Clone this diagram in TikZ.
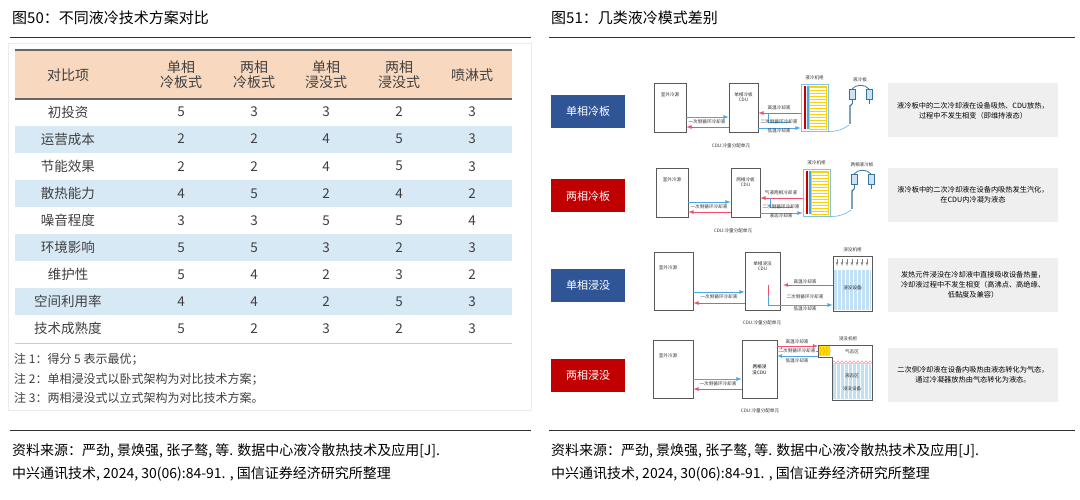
\documentclass[tikz,border=0pt]{standalone}
\usepackage{fontspec}
\setmainfont{Noto Sans CJK SC}
\definecolor{peach}{HTML}{F8D8BE}
\definecolor{rowblue}{HTML}{D8E9F6}
\definecolor{dblue}{HTML}{2F5597}
\definecolor{dred}{HTML}{C00000}
\definecolor{lblue}{HTML}{4DA6E0}
\definecolor{lred}{HTML}{F0506E}
\definecolor{descg}{HTML}{EFEFEF}
\definecolor{tgray}{HTML}{404040}
\tikzset{
  ttl/.style={anchor=west,font=\fontsize{15}{17}\selectfont,text=black,inner sep=0},
  src/.style={anchor=west,font=\fontsize{14}{16}\selectfont,text=black,inner sep=0},
  hdr/.style={font=\fontsize{14}{15}\selectfont,text=tgray,align=center,inner sep=0},
  cell/.style={font=\fontsize{13.5}{15}\selectfont,text=tgray,inner sep=0},
  note/.style={anchor=west,font=\fontsize{12}{14}\selectfont,text=tgray,inner sep=0},
  tag/.style={minimum width=74pt,minimum height=33pt,text=white,font=\fontsize{11}{13}\selectfont,inner sep=0},
  desc/.style={fill=descg,minimum width=170pt,minimum height=54pt,align=center,font=\fontsize{7.2}{10}\selectfont,text=black,inner sep=0},
  bx/.style={draw=gray!70!black,line width=0.7pt,inner sep=0},
  tiny/.style={font=\fontsize{4.6}{5.5}\selectfont,text=gray!40!black,inner sep=0.3pt,align=center},
  bl/.style={draw=lblue,line width=0.8pt,-{latex}},
  rd/.style={draw=lred,line width=0.8pt,-{latex}},
}
\newcommand\platepanel[5]{%
  \node[bx,minimum width=32pt,minimum height=49pt] (o#1) at (670,107.5) {};
  \node[tiny] (ot#1) at (670,95) {室外冷源};
  \node[bx,minimum width=29pt,minimum height=49pt] (c#1) at (743.5,107.5) {};
  \node[tiny] (ct#1) at (743.5,97) {#2\\CDU};
  \draw[bl] ([yshift=-9.5pt]o#1.east) -- ([yshift=-9.5pt]c#1.west);
  \draw[rd] ([yshift=-19.5pt]c#1.west) -- ([yshift=-19.5pt]o#1.east);
  \node[tiny,fill=white] (p#1) at (707,122) {一次侧循环冷却液};
  \node[draw=lblue!70,line width=0.7pt,minimum width=27pt,minimum height=47pt,inner sep=0] (k#1) at (814.5,107.5) {};
  \fill[red!75!black] (803.5,86) rectangle (805.5,129);
  \fill[lblue] (806.5,86) rectangle (808.5,129);
  \foreach \yy in {87,90,...,129} \draw[yellow!70!orange,line width=0.4pt] (809.5,\yy) -- (826,\yy);
  \draw[yellow!70!orange,line width=0.6pt] (809.5,86) rectangle (826.5,129);
  \node[tiny] (kt#1) at (814.5,78) {液冷机柜};
  \draw[rd] ([yshift=-5.5pt]k#1.west) -- ([yshift=-5.5pt]c#1.east);
  \draw[bl] ([yshift=-20.5pt]c#1.east) -- ([yshift=-20.5pt]k#1.west);
  \draw[lblue,line width=0.6pt] (768,113) -- (768,122) -- (790,122);
  \node[tiny] (h#1) at (779,108) {#3};
  \node[tiny] (s#1) at (779,121.5) {二次侧循环冷却液};
  \node[tiny] (l#1) at (779,131) {#4};
  \node[tiny] (it#1) at (860,80) {#5};
  \foreach \xx in {852,869}{
    \draw[lblue!70!black,fill=lblue!30] (\xx-3,89) rectangle (\xx+3,99);
    \draw[lblue!70!black,line width=0.8pt] (\xx,99) -- (\xx,104);}
  \draw[lblue!70!black,line width=0.8pt] (852,89) .. controls (856,84) and (865,84) .. (869,89);
  \draw[lblue!70!black,line width=1.2pt] (852,104) -- (850,106) -- (850,124);
  \draw[lblue,line width=0.5pt] (k#1.south east) .. controls (838,132) and (845,128) .. (849,125);
  \node[tiny] (cap#1) at (731,146) {CDU:冷量分配单元};
}
\begin{document}
\begin{tikzpicture}[x=1pt,y=-1pt]
\useasboundingbox (0,0) rectangle (1080,500);
\fill[white] (0,0) rectangle (1080,500);
% titles
\node[ttl] (t50) at (12,18) {图50：不同液冷技术方案对比};
\node[ttl] (t51) at (551,18) {图51：几类液冷模式差别};
\draw[black!80,line width=0.8pt] (10,37) -- (531,37);
\draw[black!80,line width=0.8pt] (549,37) -- (1075,37);
% table frame
\draw[black!8,line width=0.6pt] (8,43) rectangle (531,410);
\fill[peach] (15,50) rectangle (512,99);
\foreach \r in {2,4,6,8} \fill[rowblue] (15,{98.5+(\r-1)*27.1}) rectangle (512,{98.5+\r*27.1});
\draw[gray!80!black,line width=1.2pt] (15,50) -- (512,50);
\draw[gray!80!black,line width=1.2pt] (15,99) -- (512,99);
\draw[gray!40,line width=0.6pt] (15,343) -- (512,343);
\node[hdr] (h0) at (68,75) {对比项};
\node[hdr] (h1) at (181,75) {单相\\冷板式};
\node[hdr] (h2) at (254,75) {两相\\冷板式};
\node[hdr] (h3) at (326,75) {单相\\浸没式};
\node[hdr] (h4) at (399,75) {两相\\浸没式};
\node[hdr] (h5) at (472,75) {喷淋式};
\foreach \name/\a/\b/\c/\d/\e [count=\i] in {初投资/5/3/3/2/3,运营成本/2/2/4/5/3,节能效果/2/2/4/5/3,散热能力/4/5/2/4/2,噪音程度/3/3/5/5/4,环境影响/5/5/3/2/3,维护性/5/4/2/3/2,空间利用率/4/4/2/5/3,技术成熟度/5/2/3/2/3}{
  \pgfmathsetmacro\yy{112+(\i-1)*27.1}
  \node[cell] (r\i c0) at (68,\yy) {\name};
  \node[cell] (r\i c1) at (181,\yy) {\a};
  \node[cell] (r\i c2) at (254,\yy) {\b};
  \node[cell] (r\i c3) at (326,\yy) {\c};
  \node[cell] (r\i c4) at (399,\yy) {\d};
  \node[cell] (r\i c5) at (472,\yy) {\e};
}
\node[note] (n1) at (14,359) {注 1：得分 5 表示最优；};
\node[note] (n2) at (14,379) {注 2：单相浸没式以卧式架构为对比技术方案；};
\node[note] (n3) at (14,398) {注 3：两相浸没式以立式架构为对比技术方案。};
% source lines
\draw[black!80,line width=0.8pt] (10,430) -- (531,430);
\draw[black!80,line width=0.8pt] (549,430) -- (1075,430);
\node[src] (s1) at (12,451) {资料来源：严劲, 景焕强, 张子骜, 等. 数据中心液冷散热技术及应用[J].};
\node[src] (s2) at (12,474) {中兴通讯技术, 2024, 30(06):84-91. , 国信证券经济研究所整理};
\node[src] (s3) at (551,451) {资料来源：严劲, 景焕强, 张子骜, 等. 数据中心液冷散热技术及应用[J].};
\node[src] (s4) at (551,474) {中兴通讯技术, 2024, 30(06):84-91. , 国信证券经济研究所整理};
% tags
\node[tag,fill=dblue] (g1) at (588,111.5) {单相冷板};
\node[tag,fill=dred] (g2) at (588,196) {两相冷板};
\node[tag,fill=dblue] (g3) at (588,285) {单相浸没};
\node[tag,fill=dred] (g4) at (588,375) {两相浸没};
% descriptions
\node[desc] (d1) at (973,110.5) {液冷板中的二次冷却液在设备吸热、CDU放热，\\过程中不发生相变（即维持液态）};
\node[desc] (d2) at (973,195) {液冷板中的二次冷却液在设备内吸热发生汽化，\\在CDU内冷凝为液态};
\node[desc] (d3) at (973,285) {发热元件浸没在冷却液中直接吸收设备热量，\\冷却液过程中不发生相变（高沸点、高绝缘、\\低黏度及兼容）};
\node[desc] (d4) at (973,375) {二次侧冷却液在设备内吸热由液态转化为气态，\\通过冷凝器放热由气态转化为液态。};
% panel 1 & 2
\platepanel{1}{单相冷板}{高温冷却液}{低温冷却液}{液冷板}
\begin{scope}[shift={(2,85)}]
\platepanel{2}{两相冷板}{气液两相冷却液}{液态冷却液}{两相液冷板}
\end{scope}
% panel 3
\node[bx,minimum width=39pt,minimum height=58pt] (o3) at (673.5,281) {};
\node[tiny] (ot3) at (668,268) {室外冷源};
\node[bx,minimum width=35pt,minimum height=58pt] (c3) at (762.5,281) {};
\node[tiny] (ct3) at (762.5,266) {单相浸没\\CDU};
\draw[bl] ([yshift=-11pt]o3.east) -- ([yshift=-11pt]c3.west);
\draw[rd] ([yshift=-22pt]c3.west) -- ([yshift=-22pt]o3.east);
\node[tiny,fill=white] (p3) at (719,297) {一次侧循环冷却液};
\node[draw=gray!70!black,line width=0.7pt,minimum width=39pt,minimum height=55pt,inner sep=0] (t3) at (852.5,283.5) {};
\fill[lblue!35] (834,270) rectangle (871,310);
\foreach \xx in {837,841,...,869} \draw[white,line width=1pt] (\xx,270) -- (\xx,310);
\foreach \xx in {837,842,...,867} \draw[gray,line width=0.3pt,-{latex}] (\xx,259) -- (\xx,266);
\node[tiny] (tt3) at (852.5,250) {浸没机柜};
\node[tiny,fill=lblue!35] (te3) at (852.5,288) {浸没设备};
\draw[rd] ([yshift=-1.5pt]t3.west) -- (783,285);
\draw[lred,line width=0.6pt] (768,285) -- (768,296);
\draw[lblue,line width=0.6pt] (768,296) -- (768,305);
\draw[bl] (768,305) -- ([yshift=-21.5pt]t3.west);
\node[tiny] (h3) at (805,282) {高温冷却液};
\node[tiny] (sc3) at (805,297) {二次侧循环冷却液};
\node[tiny] (l3) at (805,309) {低温冷却液};
\node[tiny] (cap3) at (762,323) {CDU:冷量分配单元};
% panel 4
\node[bx,minimum width=40pt,minimum height=58pt] (o4) at (673,369) {};
\node[tiny] (ot4) at (668,356) {室外冷源};
\node[bx,minimum width=35pt,minimum height=58pt] (c4) at (759.5,369) {};
\node[tiny,text=black] (ct4) at (759.5,370) {两相浸\\没CDU};
\draw[bl] ([yshift=-10pt]o4.east) -- ([yshift=-10pt]c4.west);
\draw[rd] ([yshift=-20pt]c4.west) -- ([yshift=-20pt]o4.east);
\node[tiny,fill=white] (p4) at (718,384) {一次侧循环冷却液};
\coordinate (tk4) at (832,400);
\fill[lblue!35] (833,363) rectangle (871,399);
\foreach \xx in {836,840,...,868} \draw[white,line width=1pt] (\xx,364) -- (\xx,399);
\draw[lred!60,line width=0.6pt] (833,362) \foreach \k in {0,...,9}{ .. controls ++(1,-1.5) and ++(-1,-1.5) .. ++(2,0) .. controls ++(1,1.5) and ++(-1,1.5) .. ++(2,0)};
\draw[gray!70!black,line width=0.7pt] (818,345) -- (872,345) -- (872,400) -- (tk4) -- (832,357) -- (818,357) -- cycle;
\fill[yellow!85!orange] (819,346) rectangle (830,356);
\foreach \xx in {820,823,...,829} \draw[orange,line width=0.3pt] (\xx,347) -- (\xx+1.5,351) -- (\xx,355);
\coordinate (cd4) at (818,346);
\coordinate (cl4) at (818,356);
\node[tiny] (tt4) at (848,339) {浸没机柜};
\node[tiny] (gz4) at (852,352) {气态区};
\node[tiny] (lz4) at (852,376) {液态区};
\node[tiny] (te4) at (852,389) {浸没设备};
\draw[rd] (777,346) -- (cd4);
\draw[lblue,line width=0.6pt] (781,346) -- (781,351) -- (818,351);
\draw[bl] (cl4) -- (777,356);
\node[tiny] (h4) at (797,341.5) {高温冷却液};
\node[tiny,fill=white] (sc4) at (797,351) {二次侧循环冷却液};
\node[tiny] (l4) at (797,361) {低温冷却液};
\node[tiny] (cap4) at (760,411) {CDU:冷量分配单元};
\end{tikzpicture}
\end{document}
